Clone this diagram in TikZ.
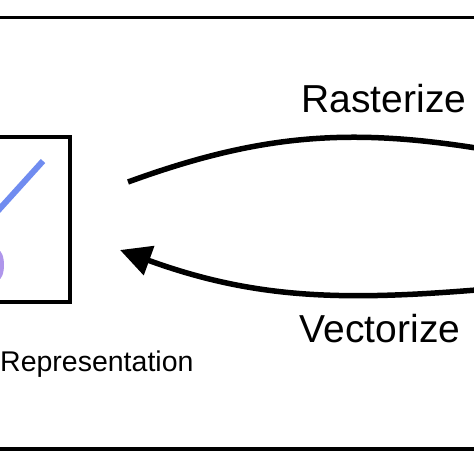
\documentclass[tikz,border=0pt]{standalone}
\usepackage{fontspec}
\setmainfont{Liberation Sans}
\usepackage{tikz,color}
\usetikzlibrary{positioning,arrows.meta}
\usepackage{xcolor}
\definecolor{strokeblue}{RGB}{112,140,240}
\definecolor{blobviolet}{RGB}{175,150,235}

\begin{document}
\begin{tikzpicture}[x=1pt,y=1pt]
    \useasboundingbox (0,0) rectangle (474,474);
    \clip (0,0) rectangle (474,474);
    % outer frame, only top and bottom edges visible
    \draw [line width=3.5pt] (-20,25) rectangle (494,456.5);
    \node [draw, line width=3.5pt, minimum width=80pt, minimum height=165pt, inner sep=0] at (30,254.5) (vecbox) {};
    \draw [strokeblue, line width=6pt] (-5,260) -- (43,313);
    \fill [blobviolet] (-2,209) ellipse (6 and 15);
    \node [anchor=base west, inner sep=0, font=\fontsize{28.5}{31}\selectfont] at (0,102) (repr) {Representation};
    \node [anchor=base, inner sep=0, font=\fontsize{39}{43}\selectfont] at (384,361) (rasterize) {Rasterize};
    \node [anchor=base, inner sep=0, font=\fontsize{39}{43}\selectfont] at (380,131) (vectorize) {Vectorize};
    \coordinate (rastStart) at (128,292);
    \coordinate (rastEnd) at (500,322);
    \coordinate (vecStart) at (500,186);
    \coordinate (vecEnd) at (120,224);
    \draw [line width=5.5pt] (rastStart) to[out=20, in=170] (rastEnd);
    \draw [-{Triangle[length=31pt,width=30pt]}, line width=5.5pt] (vecStart) to[out=185, in=-20] (vecEnd);
\end{tikzpicture}
\end{document}
